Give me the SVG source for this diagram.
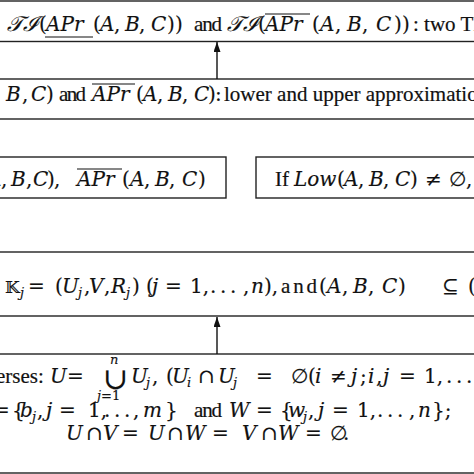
<svg xmlns="http://www.w3.org/2000/svg" width="474" height="474" viewBox="0 0 474 474">
<defs>
<style>
.box{fill:#fff;stroke:#222;stroke-width:1.4}
.t{font-family:"Liberation Serif","DejaVu Serif",serif;font-size:21px;fill:#111;stroke:#111;stroke-width:0.2}
.m{font-family:"DejaVu Serif","Liberation Serif",serif;font-size:20px;fill:#111;stroke:#111;stroke-width:0.15}
.i{font-style:italic}
.s{font-size:13px}
.bar{stroke:#111;stroke-width:1.2;fill:none}
.conn{stroke:#111;stroke-width:1.4;fill:none}
</style>
<marker id="ah" viewBox="0 0 10 7" refX="10" refY="3.5" markerWidth="10" markerHeight="7" markerUnits="userSpaceOnUse" orient="auto">
<path d="M0,0 L10,3.5 L0,7 z" fill="#111"/>
</marker>
</defs>
<rect width="474" height="474" fill="#fff"/>

<g id="node-ti">
<rect class="box" x="-10" y="1" width="494" height="40.5"/>
<text class="t i" y="31"><tspan x="7">𝒯ℐ</tspan></text>
<text class="m" y="31"><tspan x="39">(</tspan><tspan x="46" class="i">APr</tspan><tspan x="93">(</tspan><tspan x="100" class="i">A</tspan><tspan x="114">,</tspan><tspan x="125" class="i">B</tspan><tspan x="139">,</tspan><tspan x="151" class="i">C</tspan><tspan x="167">)</tspan><tspan x="175">)</tspan></text>
<text class="t" x="194" y="31" textLength="28">and</text>
<text class="t i" y="31"><tspan x="227">𝒯ℐ</tspan></text>
<text class="m" y="31"><tspan x="258">(</tspan><tspan x="265" class="i">APr</tspan><tspan x="312">(</tspan><tspan x="320" class="i">A</tspan><tspan x="335">,</tspan><tspan x="347" class="i">B</tspan><tspan x="362">,</tspan><tspan x="376" class="i">C</tspan><tspan x="394">)</tspan><tspan x="402">)</tspan></text>
<text class="t" x="413" y="31">: two TF</text>
<line class="bar" x1="45" y1="37" x2="93" y2="37"/>
<line class="bar" x1="265" y1="14" x2="310" y2="14"/>
</g>

<g id="node-approx">
<rect class="box" x="-10" y="79" width="494" height="40"/>
<text class="m" y="101"><tspan x="6" class="i">B</tspan><tspan x="22">,</tspan><tspan x="31" class="i">C</tspan><tspan x="46">)</tspan></text>
<text class="t" x="59" y="101" textLength="27">and</text>
<text class="m" y="101"><tspan x="92" class="i">APr</tspan><tspan x="136">(</tspan><tspan x="143" class="i">A</tspan><tspan x="157">,</tspan><tspan x="168" class="i">B</tspan><tspan x="182">,</tspan><tspan x="194" class="i">C</tspan><tspan x="208">)</tspan><tspan x="215">:</tspan></text>
<text class="t" x="224" y="101">lower and upper approximation</text>
<line class="bar" x1="92" y1="84" x2="135" y2="84"/>
</g>

<g id="node-left">
<rect class="box" x="-10" y="157" width="236" height="41"/>
<text class="m" y="186"><tspan x="-13" class="i">A</tspan><tspan x="1">,</tspan><tspan x="11" class="i">B</tspan><tspan x="26">,</tspan><tspan x="33" class="i">C</tspan><tspan x="47">)</tspan><tspan x="54">,</tspan><tspan x="77" class="i">APr</tspan><tspan x="122">(</tspan><tspan x="130" class="i">A</tspan><tspan x="144">,</tspan><tspan x="155" class="i">B</tspan><tspan x="169">,</tspan><tspan x="182" class="i">C</tspan><tspan x="198">)</tspan></text>
<line class="bar" x1="77" y1="169" x2="122" y2="169"/>
</g>

<g id="node-right">
<rect class="box" x="256" y="157" width="230" height="41"/>
<text class="t" x="275" y="186">If</text>
<text class="m" y="186"><tspan x="294" class="i">Low</tspan><tspan x="337">(</tspan><tspan x="344" class="i">A</tspan><tspan x="358">,</tspan><tspan x="369" class="i">B</tspan><tspan x="383">,</tspan><tspan x="395" class="i">C</tspan><tspan x="410">)</tspan><tspan x="425">≠</tspan><tspan x="449">∅</tspan><tspan x="466">,</tspan></text>
</g>

<g id="node-contexts">
<rect class="box" x="-10" y="252" width="494" height="64"/>
<text class="m" y="293"><tspan x="5" style="font-size:17px">𝕂</tspan><tspan x="20" dy="4" class="s i">j</tspan><tspan x="28" dy="-4">=</tspan><tspan x="55">(</tspan><tspan x="62" class="i">U</tspan><tspan x="78" dy="4" class="s i">j</tspan><tspan x="84" dy="-4">,</tspan><tspan x="89" class="i">V</tspan><tspan x="104">,</tspan><tspan x="111" class="i">R</tspan><tspan x="126" dy="4" class="s i">j</tspan><tspan x="132" dy="-4">)</tspan><tspan x="146">(</tspan><tspan x="152" class="i">j</tspan><tspan x="165">=</tspan><tspan x="190">1,</tspan><tspan x="210">.</tspan><tspan x="220">.</tspan><tspan x="230">.</tspan><tspan x="243">,</tspan><tspan x="251" class="i">n</tspan><tspan x="264">),</tspan><tspan x="319">(</tspan><tspan x="327" class="i">A</tspan><tspan x="342">,</tspan><tspan x="353" class="i">B</tspan><tspan x="368">,</tspan><tspan x="382" class="i">C</tspan><tspan x="398">)</tspan><tspan x="442">⊆</tspan><tspan x="468">(</tspan></text>
<text class="t" x="281" y="293" textLength="36">and</text>
</g>

<g id="node-universes">
<rect class="box" x="-10" y="354" width="494" height="119"/>
<text class="t" x="-4" y="383">erses:</text>
<text class="m" y="383"><tspan x="50" class="i">U</tspan><tspan x="67">=</tspan><tspan x="131" class="i">U</tspan><tspan x="146" dy="4" class="s i">j</tspan><tspan x="152" dy="-4">,</tspan><tspan x="166">(</tspan><tspan x="172" class="i">U</tspan><tspan x="187" dy="4" class="s i">i</tspan><tspan x="198" dy="-4">∩</tspan><tspan x="218" class="i">U</tspan><tspan x="233" dy="4" class="s i">j</tspan><tspan x="256" dy="-4">=</tspan><tspan x="291">∅</tspan><tspan x="308">(</tspan><tspan x="315" class="i">i</tspan><tspan x="330">≠</tspan><tspan x="351" class="i">j</tspan><tspan x="360">;</tspan><tspan x="368" class="i">i</tspan><tspan x="376">,</tspan><tspan x="383" class="i">j</tspan><tspan x="399">=</tspan><tspan x="424">1,</tspan><tspan x="446">.</tspan><tspan x="456">.</tspan><tspan x="466">.</tspan></text>
<text class="m" x="103" y="389" style="font-size:30px">∪</text>
<text class="m i s" x="110" y="364">n</text>
<text class="m s" x="97" y="400"><tspan class="i">j</tspan>=1</text>
<text class="m" y="417"><tspan x="-7">=</tspan><tspan x="12">{</tspan><tspan x="20" class="i">b</tspan><tspan x="32" dy="4" class="s i">j</tspan><tspan x="37" dy="-4">,</tspan><tspan x="46" class="i">j</tspan><tspan x="59">=</tspan><tspan x="88">1,</tspan><tspan x="104">.</tspan><tspan x="114">.</tspan><tspan x="124">.</tspan><tspan x="133">,</tspan><tspan x="143" class="i">m</tspan><tspan x="165">}</tspan><tspan x="229" class="i">W</tspan><tspan x="256">=</tspan><tspan x="280">{</tspan><tspan x="288" class="i">w</tspan><tspan x="303" dy="4" class="s i">j</tspan><tspan x="308" dy="-4">,</tspan><tspan x="318" class="i">j</tspan><tspan x="332">=</tspan><tspan x="357">1,</tspan><tspan x="377">.</tspan><tspan x="387">.</tspan><tspan x="397">.</tspan><tspan x="409">,</tspan><tspan x="418" class="i">n</tspan><tspan x="432">};</tspan></text>
<text class="t" x="194" y="417" textLength="28">and</text>
<text class="m" y="440"><tspan x="66" class="i">U</tspan><tspan x="86">∩</tspan><tspan x="103" class="i">V</tspan><tspan x="122">=</tspan><tspan x="148" class="i">U</tspan><tspan x="167">∩</tspan><tspan x="185" class="i">W</tspan><tspan x="212">=</tspan><tspan x="242" class="i">V</tspan><tspan x="261">∩</tspan><tspan x="278" class="i">W</tspan><tspan x="305">=</tspan><tspan x="330">∅</tspan><tspan x="343">.</tspan></text>
</g>

<g id="connectors">
<line class="conn" x1="217" y1="79" x2="217" y2="42" marker-end="url(#ah)"/>
<line class="conn" x1="217" y1="354" x2="217" y2="317" marker-end="url(#ah)"/>
</g>
</svg>
